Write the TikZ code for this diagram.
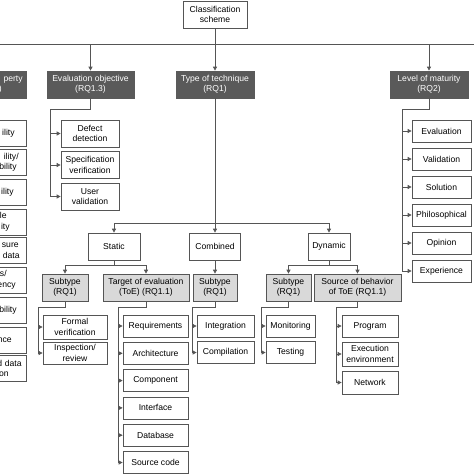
\documentclass[tikz,border=0pt]{standalone}
\usepackage{fontspec}
\setmainfont{Liberation Sans}
\usepackage{tikz}
\usetikzlibrary{arrows.meta}
\definecolor{boxdark}{HTML}{5A5A5A}
\definecolor{boxlight}{HTML}{D9D9D9}
\definecolor{linegray}{HTML}{555555}
\tikzset{>={Triangle[length=4pt,width=4pt]}}
\newcommand{\cut}[1]{\rule{#1pt}{0pt}}

\begin{document}
\begin{tikzpicture}[x=1pt, y=-1pt, line width=0.7pt, color=linegray,
    every node/.style={font=\fontsize{8.6}{10.5}\selectfont, align=center, inner sep=0pt, text=black},
    plain/.style={draw=linegray, fill=white, minimum height=22pt},
    head/.style={draw=boxdark, fill=boxdark, text=white, minimum height=27pt},
    sub/.style={draw=linegray, fill=boxlight, minimum height=27pt},
    cut/.style={anchor=east, align=right, text width=#1, inner xsep=0pt}, cut/.default=70pt]
		\useasboundingbox (0,0) rectangle (474,474);
		\clip (0,0) rectangle (474,474);

		% top
		\node [plain, minimum width=64pt, minimum height=27pt] (root) at (215,14.5) {Classification\\scheme};
		\node [head, cut=90pt] (prop) at (27,84.5) {perty\cut{4}\\)\cut{25}};
		\node [head, minimum width=87pt] (evo) at (90.5,84.5) {Evaluation objective\\(RQ1.3)};
		\node [head, minimum width=78pt] (tech) at (215,84.5) {Type of technique\\(RQ1)};
		\node [head, minimum width=78pt] (mat) at (429,84.5) {Level of maturity\\(RQ2)};

		% left column, cut by the edge
		\node [plain, cut, minimum height=26pt] (pr1) at (27,133.5) {ility\cut{12}};
		\node [plain, cut, minimum height=26pt] (pr2) at (27,162.5) {ility/\cut{8}\\bility\cut{10}};
		\node [plain, cut, minimum height=26pt] (pr3) at (27,192.5) {ility\cut{13}};
		\node [plain, cut, minimum height=26pt] (pr4) at (27,222) {le\cut{20}\\ity\cut{17}};
		\node [plain, cut, minimum height=26pt] (pr5) at (27,250.5) {sure\cut{8}\\l data\cut{7}};
		\node [plain, cut, minimum height=26pt] (pr6) at (27,280) {ss/\cut{20}\\ency\cut{11}};
		\node [plain, cut, minimum height=26pt] (pr7) at (27,310) {bility\cut{10}};
		\node [plain, cut, minimum height=26pt] (pr8) at (27,340) {nce\cut{15}};
		\node [plain, cut, minimum height=26pt] (pr9) at (27,368.5) {d data\cut{5}\\on\cut{18}};

		% evaluation objective
		\node [plain, minimum width=58pt, minimum height=27pt] (defect) at (90,133.5) {Defect\\detection};
		\node [plain, minimum width=58pt, minimum height=27pt] (specver) at (90,165) {Specification\\verification};
		\node [plain, minimum width=58pt, minimum height=27pt] (userval) at (90,196.5) {User\\validation};

		% level of maturity
		\node [plain, minimum width=59pt] (evalm) at (441.5,131) {Evaluation};
		\node [plain, minimum width=59pt] (valid) at (441.5,159) {Validation};
		\node [plain, minimum width=59pt] (solut) at (441.5,187) {Solution};
		\node [plain, minimum width=59pt] (philo) at (441.5,215) {Philosophical};
		\node [plain, minimum width=59pt] (opin) at (441.5,243) {Opinion};
		\node [plain, minimum width=59pt] (exper) at (441.5,271) {Experience};

		% type of technique
		\node [plain, minimum width=52pt, minimum height=27pt] (static) at (114,246.5) {Static};
		\node [plain, minimum width=51pt, minimum height=27pt] (comb) at (215,246.5) {Combined};
		\node [plain, minimum width=42pt, minimum height=27pt] (dyn) at (329,246.5) {Dynamic};

		\node [sub, minimum width=46pt] (ssub) at (65,287.5) {Subtype\\(RQ1)};
		\node [sub, minimum width=86pt] (toe) at (146,287.5) {Target of evaluation\\(ToE) (RQ1.1)};
		\node [sub, minimum width=44pt] (csub) at (215,287.5) {Subtype\\(RQ1)};
		\node [sub, minimum width=45pt] (dsub) at (288.5,287.5) {Subtype\\(RQ1)};
		\node [sub, minimum width=87pt] (src) at (357.5,287.5) {Source of behavior\\of ToE (RQ1.1)};

		\node [plain, minimum width=64pt, minimum height=24pt] (formal) at (75,327) {Formal\\verification};
		\node [plain, minimum width=64pt] (inspect) at (75,353) {Inspection/\\review};

		\node [plain, minimum width=65pt] (req) at (155.5,326) {Requirements};
		\node [plain, minimum width=65pt] (arch) at (155.5,353.3) {Architecture};
		\node [plain, minimum width=65pt] (comp) at (155.5,380.6) {Component};
		\node [plain, minimum width=65pt] (intf) at (155.5,407.9) {Interface};
		\node [plain, minimum width=65pt] (dbase) at (155.5,435.2) {Database};
		\node [plain, minimum width=65pt] (scode) at (155.5,462.5) {Source code};

		\node [plain, minimum width=57pt] (integ) at (225.5,326) {Integration};
		\node [plain, minimum width=57pt] (compil) at (225.5,352.5) {Compilation};

		\node [plain, minimum width=49pt] (monit) at (290.5,326) {Monitoring};
		\node [plain, minimum width=49pt] (testg) at (290.5,352.5) {Testing};

		\node [plain, minimum width=56pt] (prog) at (370,326) {Program};
		\node [plain, minimum width=56pt, minimum height=24pt] (exec) at (370,354) {Execution\\environment};
		\node [plain, minimum width=56pt, minimum height=23pt] (netw) at (370,382.5) {Network};

		% joints
		\coordinate (bar) at (0,44);
		\coordinate (offright) at (490,44);
		\coordinate (propj) at (-50,109);
		\coordinate (evj) at (50,109);
		\coordinate (matj) at (402,109);
		\coordinate (tj) at (215,223);
		\coordinate (stj) at (114,265);
		\coordinate (dyj) at (329,265);
		\coordinate (ssj) at (38,307);
		\coordinate (toej) at (118,307);
		\coordinate (csj) at (192,307);
		\coordinate (dsj) at (261,307);
		\coordinate (srj) at (336,307);

		\draw (root.south) -- (root.south |- bar) -- (offright);
		\foreach \n in {prop, evo, tech, mat}
			\draw[->] (root.south |- bar) -| (\n.north);

		\draw (prop.south) |- (propj);
		\foreach \n in {pr1, pr2, pr3, pr4, pr5, pr6, pr7, pr8, pr9}
			\draw[->] (propj) |- (\n.west);
		\draw (evo.south) |- (evj);
		\foreach \n in {defect, specver, userval}
			\draw[->] (evj) |- (\n.west);
		\draw (mat.south) |- (matj);
		\foreach \n in {evalm, valid, solut, philo, opin, exper}
			\draw[->] (matj) |- (\n.west);

		\draw (tech.south) -- (tj);
		\foreach \n in {static, comb, dyn}
			\draw[->] (tj) -| (\n.north);
		\draw (static.south) -- (stj);
		\foreach \n in {ssub, toe}
			\draw[->] (stj) -| (\n.north);
		\draw[->] (comb) -- (csub);
		\draw (dyn.south) -- (dyj);
		\foreach \n in {dsub, src}
			\draw[->] (dyj) -| (\n.north);

		\draw (ssub.south) |- (ssj);
		\foreach \n in {formal, inspect}
			\draw[->] (ssj) |- (\n.west);
		\draw (toe.south) |- (toej);
		\foreach \n in {req, arch, comp, intf, dbase, scode}
			\draw[->] (toej) |- (\n.west);
		\draw (csub.south) |- (csj);
		\foreach \n in {integ, compil}
			\draw[->] (csj) |- (\n.west);
		\draw (dsub.south) |- (dsj);
		\foreach \n in {monit, testg}
			\draw[->] (dsj) |- (\n.west);
		\draw (src.south) |- (srj);
		\foreach \n in {prog, exec, netw}
			\draw[->] (srj) |- (\n.west);
\end{tikzpicture}
\end{document}
